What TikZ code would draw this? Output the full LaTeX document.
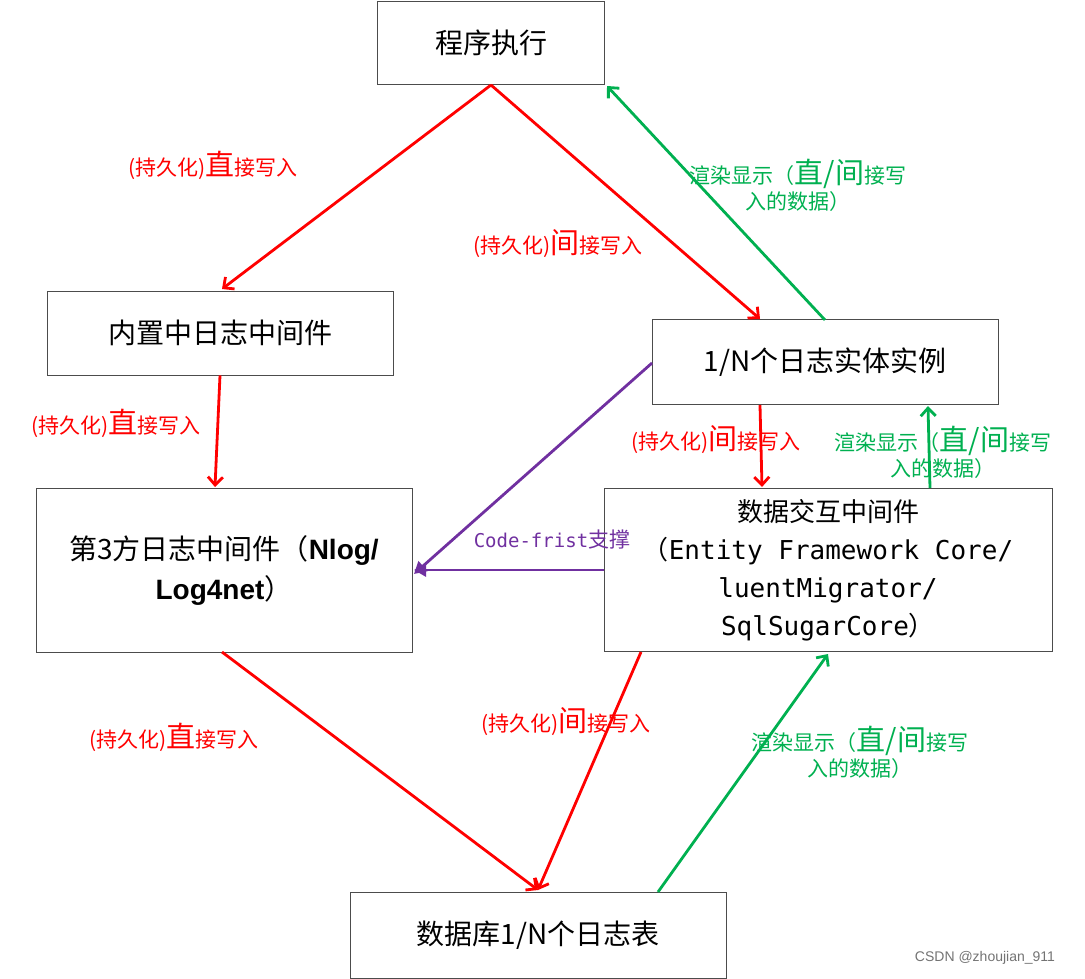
\documentclass[tikz,border=0pt]{standalone}
\usepackage{fontspec}
\setmainfont{Liberation Serif}
\newfontfamily\cjk{Noto Sans CJK SC}
\newfontfamily\mono{DejaVu Sans Mono}
\usetikzlibrary{arrows.meta}
\definecolor{wred}{RGB}{255,0,0}
\definecolor{wgreen}{RGB}{0,176,80}
\definecolor{wpurple}{RGB}{112,48,160}
\newcommand{\bigch}[1]{{\fontsize{29}{30}\selectfont #1}}
\begin{document}
\begin{tikzpicture}[
    x=1pt, y=-1pt,
    font=\cjk\fontsize{28}{32}\selectfont,
    box/.style = {draw=black!70, line width=0.8pt, rectangle, align=center},
    lbl/.style = {font=\cjk\fontsize{21}{26}\selectfont, align=center, inner sep=1pt},
    red/.style = {draw=wred, line width=2.8pt, -{Straight Barb[length=8pt,width=15pt]}},
    grn/.style = {draw=wgreen, line width=2.8pt, -{Straight Barb[length=8pt,width=15pt]}},
    pur/.style = {draw=wpurple, line width=2.8pt, -{Triangle[length=12pt,width=13pt]}}
    ]
    \useasboundingbox (0,0) rectangle (1085,978);

    % boxes
    \node[box, minimum width=227pt, minimum height=83pt] (run) at (491,43) {程序执行};
    \node[box, minimum width=346pt, minimum height=84pt] (builtin) at (220,333) {内置中日志中间件};
    \node[box, minimum width=346pt, minimum height=85pt] (entity) at (825,362) {1/N个日志实体实例};
    \node[box, minimum width=376pt, minimum height=164pt, font=\cjk\fontsize{28}{40}\selectfont] (third) at (224,570)
      {第3方日志中间件（\textbf{\fontspec{Liberation Sans}Nlog/}\\\textbf{\fontspec{Liberation Sans}Log4net}）};
    \node[box, minimum width=448pt, minimum height=163pt, font=\cjk\fontsize{26}{38}\selectfont] (orm) at (828,570)
      {数据交互中间件\\（{\mono Entity Framework Core/}\\{\mono luentMigrator/}\\{\mono SqlSugarCore}）};
    \node[box, minimum width=376pt, minimum height=86pt] (db) at (538,935) {数据库1/N个日志表};

    % connectors
    \coordinate (runS) at (491,85);
    \coordinate (entA) at (760,319);
    \coordinate (entB) at (652,363);
    \draw[red] (runS) -- (222,289);
    \draw[red] (runS) -- (entA);
    \draw[red] (builtin.south) -- (215,487);
    \draw[red] (760,405) -- (762,487);
    \draw[red] (222,652) -- (538,890);
    \draw[red] (641,652) -- (538,890);
    \draw[grn] (825,320) -- (607,86);
    \draw[grn] (930,488) -- (928,406);
    \draw[grn] (658,892) -- (828,654);
    \draw[pur] (entB) -- (414,574);
    \draw[pur] (orm.west) -- (414,570);

    % labels
    \node[lbl, text=wred] (l1) at (213,165) {(持久化)\bigch{直}接写入};
    \node[lbl, text=wred] (l2) at (558,244) {(持久化)\bigch{间}接写入};
    \node[lbl, text=wred] (l3) at (116,423) {(持久化)\bigch{直}接写入};
    \node[lbl, text=wred] (l4) at (716,440) {(持久化)\bigch{间}接写入};
    \node[lbl, text=wred] (l5) at (174,737) {(持久化)\bigch{直}接写入};
    \node[lbl, text=wred] (l6) at (566,722) {(持久化)\bigch{间}接写入};
    \node[lbl, text=wgreen] (g1) at (798,185) {渲染显示（\bigch{直/间}接写\\入的数据）};
    \node[lbl, text=wgreen] (g2) at (943,452) {渲染显示（\bigch{直/间}接写\\入的数据）};
    \node[lbl, text=wgreen] (g3) at (860,752) {渲染显示（\bigch{直/间}接写\\入的数据）};
    \node[lbl, text=wpurple] (p1) at (552,540)
      {{\mono\fontsize{19}{22}\selectfont Code-frist}支撑};
    \node[font=\fontspec{Liberation Sans}\fontsize{14}{16}\selectfont, text=black!55] (wm) at (985,958) {CSDN @zhoujian\_911};
\end{tikzpicture}
\end{document}
